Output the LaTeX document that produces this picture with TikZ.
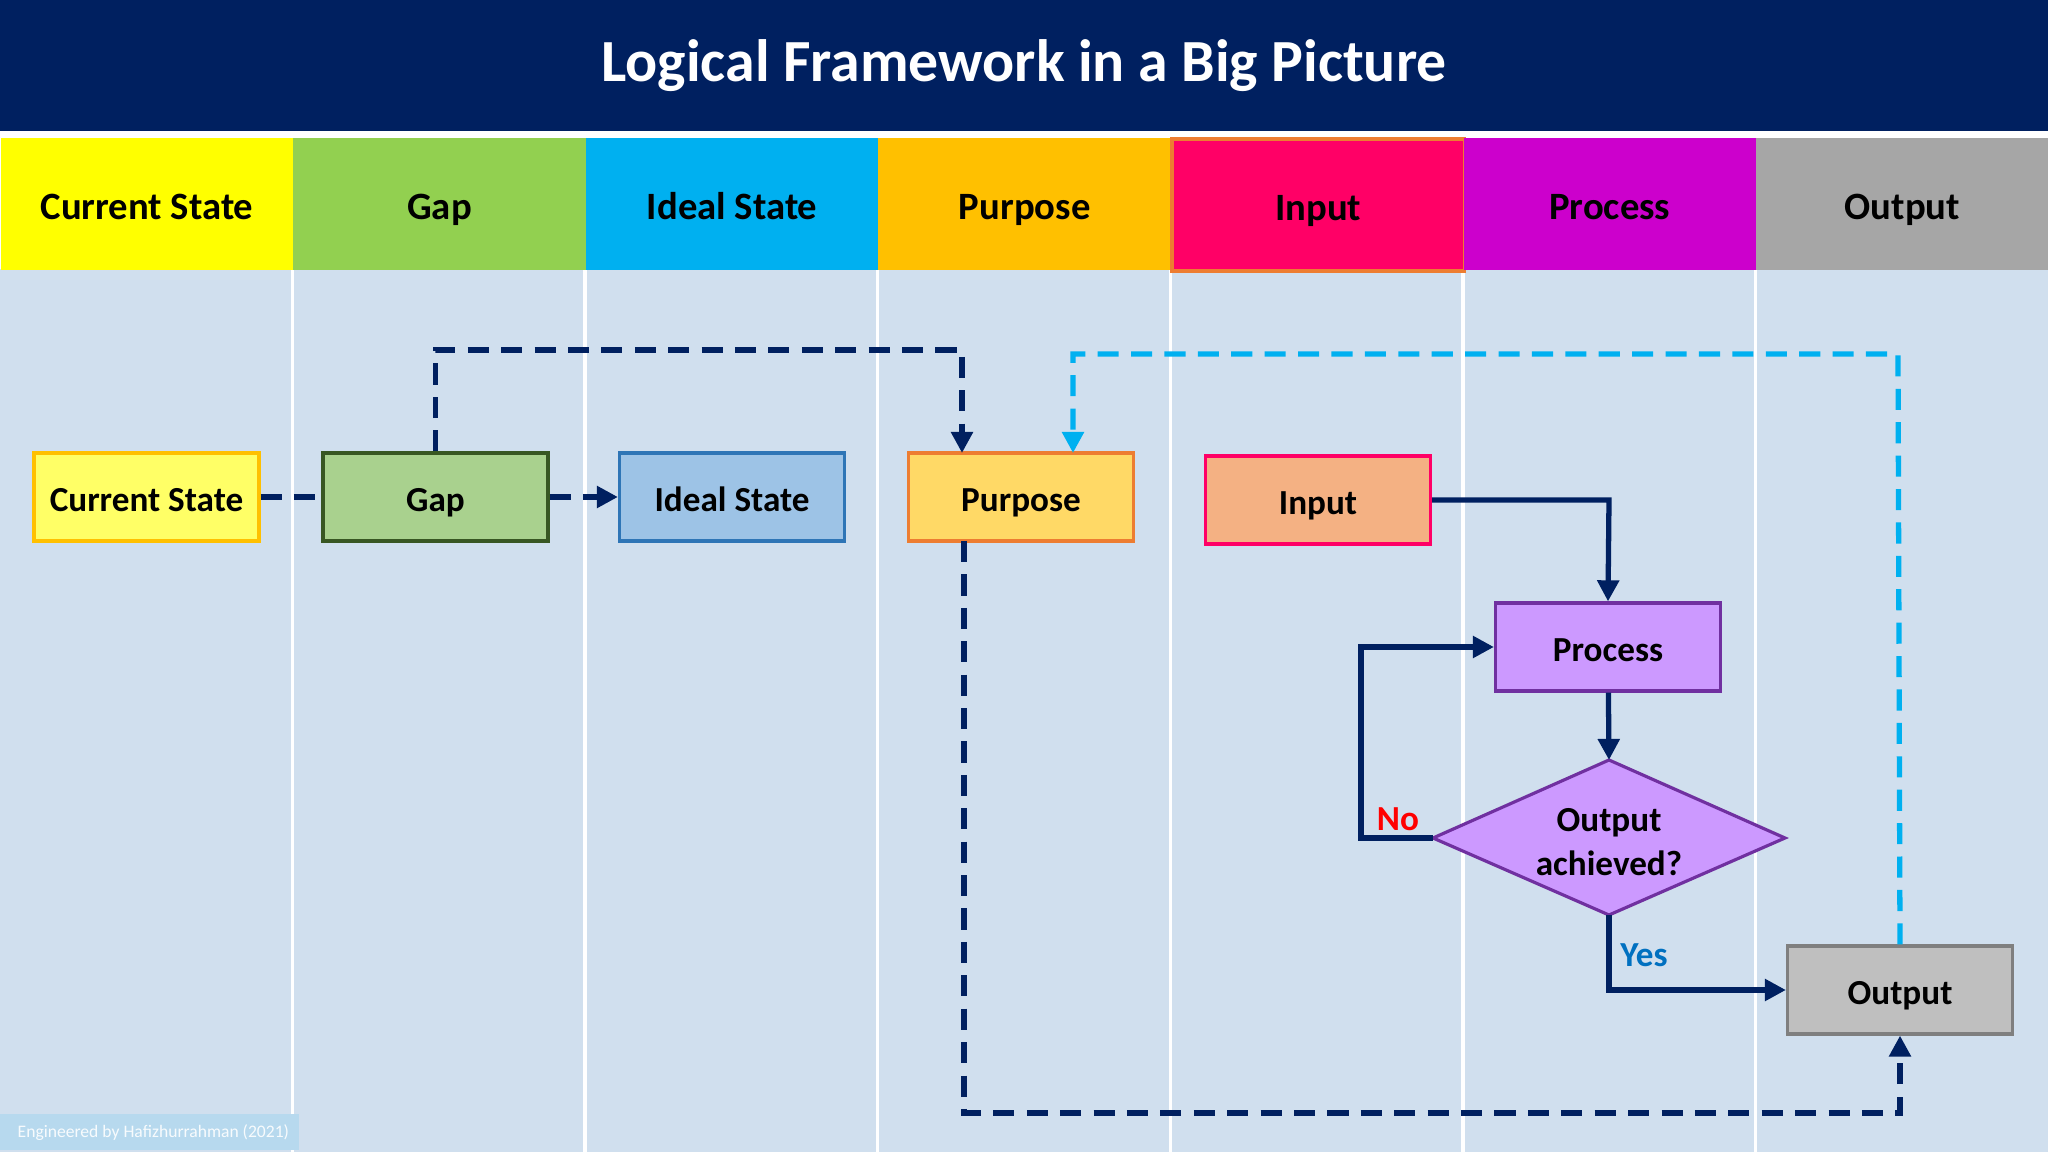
\documentclass[tikz,border=0pt]{standalone}
\usepackage{fontspec}
\setmainfont{Carlito}
\usetikzlibrary{shapes.geometric,arrows.meta}
\definecolor{navy}{RGB}{0,32,96}
\definecolor{bodybg}{RGB}{208,223,238}
\definecolor{lblue}{RGB}{0,176,240}
\begin{document}
\begin{tikzpicture}[x=0.01cm,y=-0.01cm,
  hdr/.style={minimum width=292.57*0.01cm,minimum height=132*0.01cm,inner sep=0,text height=11pt,text depth=2.2pt,font=\fontsize{11}{13}\selectfont\bfseries,anchor=north west},
  box/.style={draw,line width=0.9pt,minimum width=225*0.01cm,minimum height=88*0.01cm,inner sep=0,text height=10pt,text depth=2pt,font=\fontsize{10}{12}\selectfont\bfseries},
  link/.style={navy,line width=1.5pt,-{Triangle[length=6pt,width=6pt]}},
  dlink/.style={link,dash pattern=on 6pt off 3.5pt},
]
\useasboundingbox (0,0) rectangle (2048,1152);
\fill[bodybg] (0,269) rectangle (2048,1152);
\fill[navy] (0,0) rectangle (2048,131);
\node[white,font=\fontsize{17}{20}\selectfont\bfseries] (title) at (1024,66) {Logical Framework in a Big Picture};
\foreach \i in {1,...,6}{\draw[white,line width=1pt] (\i*292.57,137) -- (\i*292.57,1152);}
\node[hdr,fill={rgb,255:red,255;green,255;blue,0}] (h1) at (0,137) {Current State};
\node[hdr,fill={rgb,255:red,146;green,208;blue,80}] (h2) at (292.57,137) {Gap};
\node[hdr,fill={rgb,255:red,0;green,176;blue,240}] (h3) at (585.14,137) {Ideal State};
\node[hdr,fill={rgb,255:red,255;green,192;blue,0}] (h4) at (877.71,137) {Purpose};
\node[hdr,fill={rgb,255:red,255;green,0;blue,102},draw={rgb,255:red,237;green,125;blue,49},line width=1pt] (h5) at (1170.29,137) {Input};
\node[hdr,fill={rgb,255:red,204;green,0;blue,204}] (h6) at (1462.86,137) {Process};
\node[hdr,fill={rgb,255:red,166;green,166;blue,166}] (h7) at (1755.43,137) {Output};
\node[box,fill={rgb,255:red,255;green,255;blue,102},draw={rgb,255:red,255;green,192;blue,0}] (cs) at (146.5,497) {Current State};
\node[box,fill={rgb,255:red,169;green,209;blue,142},draw={rgb,255:red,56;green,87;blue,35}] (gap) at (435.5,497) {Gap};
\node[box,fill={rgb,255:red,157;green,195;blue,230},draw={rgb,255:red,46;green,117;blue,182}] (ideal) at (732,497) {Ideal State};
\node[box,fill={rgb,255:red,255;green,217;blue,102},draw={rgb,255:red,237;green,125;blue,49}] (purpose) at (1021,497) {Purpose};
\node[box,fill={rgb,255:red,244;green,177;blue,131},draw={rgb,255:red,255;green,0;blue,102}] (input) at (1318,500) {Input};
\node[box,fill={rgb,255:red,204;green,153;blue,255},draw={rgb,255:red,112;green,48;blue,160}] (process) at (1608,647) {Process};
\draw[draw={rgb,255:red,112;green,48;blue,160},line width=0.9pt,fill={rgb,255:red,204;green,153;blue,255}] (1433,838) -- (1609,760) -- (1785,838) -- (1609,915) -- cycle;
\node[minimum width=352*0.01cm,minimum height=155*0.01cm,inner sep=0,align=center,font=\fontsize{10}{12.5}\selectfont\bfseries] (dec) at (1609,842) {Output\\achieved?};
\node[box,fill={rgb,255:red,191;green,191;blue,191},draw={rgb,255:red,127;green,127;blue,127}] (output) at (1900,990) {Output};
\fill[bodybg!80!lblue!60!bodybg] (0,1114) rectangle (299,1150);
\node[anchor=west,inner sep=0,white,font=\fontsize{5}{6}\selectfont,opacity=0.9] (credit) at (17,1133) {Engineered by Hafizhurrahman (2021)};
% connectors
\draw[navy,line width=1.5pt,dash pattern=on 6pt off 3.5pt] (cs) -- (gap);
\draw[dlink] (gap) -- (ideal);
\draw[dlink] (gap.north) -- (435.5,350) -- (962,350) -- (962,453);
\draw[dlink,lblue] (output.north) -- (1898,354) -- (1073,354) -- (1073,453);
\draw[dlink] (964,541) -- (964,1113) -- (1900,1113) -- (output.south);
\draw[link] (input.east) -- (1609,500) -- (process.north);
\draw[link] (process) -- (1609,760);
\draw[link] (1433,838) -- (1361,838) -- (1361,647) -- (process.west);
\draw[link] (1609,915) -- (1609,990) -- (output.west);
\node[red,font=\fontsize{10}{12}\selectfont\bfseries] (no) at (1398,819) {No};
\node[text={rgb,255:red,0;green,112;blue,192},font=\fontsize{10}{12}\selectfont\bfseries] (yes) at (1644,955) {Yes};
\end{tikzpicture}
\end{document}
